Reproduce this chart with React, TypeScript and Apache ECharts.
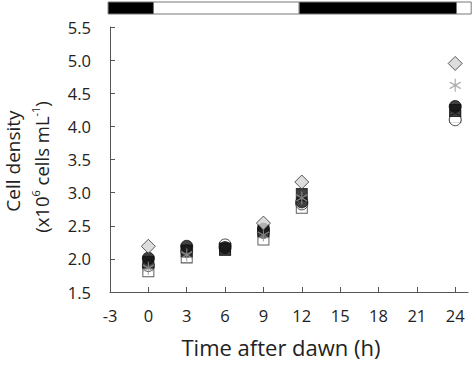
import React, { useEffect, useRef } from "react";
import * as echarts from "echarts";

const times = [0, 3, 6, 9, 12, 24];
const diamondVals = [2.19, null, null, 2.54, 3.16, 4.95];
const asteriskVals = [1.86, 2.06, null, 2.36, 2.92, 4.62];
const blackCircleVals = [2.01, 2.19, 2.17, 2.45, 2.86, 4.3];
const openCircleVals = [1.9, 2.12, 2.21, 2.4, 2.83, 4.1];
const blackSquareVals = [1.95, 2.12, 2.15, 2.42, 2.97, 4.24];
const openSquareVals = [1.82, 2.03, 2.14, 2.3, 2.78, 4.15];
const xTicks = [-3, 0, 3, 6, 9, 12, 15, 18, 21, 24];
// light/dark periods: [start, end, isDark]
const periods: [number, number, number][] = [
  [-3.15, 0.4, 1],
  [0.4, 11.8, 0],
  [11.8, 24.1, 1],
  [24.1, 25.25, 0],
];

const asteriskPath = "path://M5 0 L5 12 M0 3 L10 9 M0 9 L10 3";

export default function App() {
  const ref = useRef<HTMLDivElement>(null);
  useEffect(() => {
    const chart = echarts.init(ref.current!, undefined, { renderer: "svg" });
    const pts = (vals: (number | null)[]) =>
      times.map((t, i) => (vals[i] === null ? [t, null] : [t, vals[i]]));
    const font = "Open Sans";
    const scatter = (
      name: string,
      vals: (number | null)[],
      symbol: string,
      size: number | number[],
      itemStyle: any
    ) => ({
      type: "scatter",
      name,
      data: pts(vals),
      symbol,
      symbolSize: size,
      itemStyle,
      xAxisIndex: 0,
      yAxisIndex: 0,
    });
    chart.setOption({
      animation: false,
      grid: [
        { left: 110, right: 6, top: 27, bottom: 75 },
        { left: 110, right: 6, top: 2, height: 12 },
      ],
      xAxis: [
        {
          type: "value",
          gridIndex: 0,
          min: -3,
          max: 25,
          interval: 3,
          splitLine: { show: false },
          axisLine: { onZero: false, lineStyle: { color: "#555", width: 1 } },
          axisTick: {
            inside: true,
            length: 5,
            customValues: xTicks,
            lineStyle: { color: "#555" },
          },
          axisLabel: {
            customValues: xTicks,
            color: "#222",
            fontFamily: font,
            fontSize: 16.5,
            margin: 15,
          },
          name: "Time after dawn (h)",
          nameLocation: "middle",
          nameGap: 44,
          nameTextStyle: {
            color: "#222",
            fontFamily: font,
            fontSize: 22,
            padding: [0, 16, 0, 0],
          },
        },
        {
          type: "value",
          gridIndex: 1,
          min: -3,
          max: 25,
          show: false,
        },
      ],
      yAxis: [
        {
          type: "value",
          gridIndex: 0,
          min: 1.5,
          max: 5.5,
          interval: 0.5,
          splitLine: { show: false },
          axisLine: { show: true, onZero: false, lineStyle: { color: "#555", width: 1 } },
          axisTick: { show: true, inside: true, length: 5, lineStyle: { color: "#555" } },
          axisLabel: {
            color: "#222",
            fontFamily: font,
            fontSize: 16.5,
            margin: 19,
            formatter: (v: number) => v.toFixed(1),
          },
        },
        { type: "value", gridIndex: 1, min: 0, max: 1, show: false },
      ],
      series: [
        scatter("Open square", openSquareVals, "rect", [11, 12], {
          color: "#fff",
          borderColor: "#333",
          borderWidth: 1,
        }),
        scatter("Open circle", openCircleVals, "circle", 12, {
          color: "#fff",
          borderColor: "#222",
          borderWidth: 1,
        }),
        scatter("Black square", blackSquareVals, "rect", [11, 12], {
          color: "#111",
          borderColor: "#111",
          borderWidth: 1,
        }),
        scatter("Black circle", blackCircleVals, "circle", 12, {
          color: "#111",
          borderColor: "#111",
          borderWidth: 1,
        }),
        scatter("Asterisk", asteriskVals, asteriskPath, [11, 13], {
          color: "none",
          borderColor: "#999",
          borderWidth: 1.3,
        }),
        scatter("Diamond", diamondVals, "diamond", 14, {
          color: "#d4d4d4",
          borderColor: "#333",
          borderWidth: 1,
        }),
        {
          type: "custom",
          xAxisIndex: 1,
          yAxisIndex: 1,
          clip: false,
          data: periods,
          renderItem: (params: any, api: any) => {
            const s = api.coord([api.value(0), 1]);
            const e = api.coord([api.value(1), 0]);
            return {
              type: "rect",
              shape: { x: s[0], y: s[1], width: e[0] - s[0], height: e[1] - s[1] },
              style: {
                fill: api.value(2) ? "#000" : "#fff",
                stroke: "#777",
                lineWidth: 1,
              },
            };
          },
        },
      ],
      graphic: [
        {
          type: "text",
          x: 13,
          y: 161,
          rotation: Math.PI / 2,
          style: {
            text: "Cell density",
            fontFamily: font,
            fontSize: 19,
            fill: "#222",
            textAlign: "center",
            textVerticalAlign: "middle",
          },
        },
        {
          type: "text",
          x: 41,
          y: 167,
          rotation: Math.PI / 2,
          style: {
            text: "{m|(x10}{s|6}{m| cells mL}{s|-1}{m|)}",
            fill: "#222",
            textAlign: "center",
            textVerticalAlign: "middle",
            rich: {
              m: { fontFamily: font, fontSize: 18.5, fill: "#222", lineHeight: 22 },
              s: {
                fontFamily: font,
                fontSize: 11,
                fill: "#222",
                lineHeight: 22,
                verticalAlign: "top",
                padding: [0, 0, 8, 0],
              },
            },
          },
        },
      ],
    });
    return () => chart.dispose();
  }, []);
  return <div ref={ref} style={{ width: 474, height: 367, position: "absolute", left: 0, top: 0 }} />;
}
